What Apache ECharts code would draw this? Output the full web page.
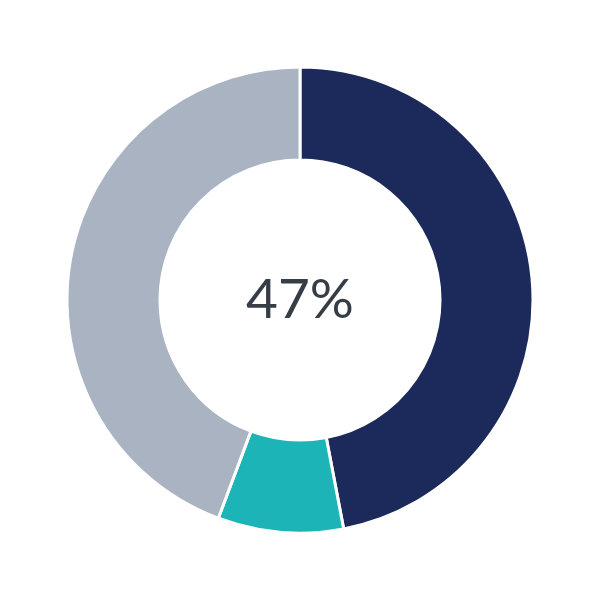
<!DOCTYPE html>
<html><head><meta charset="utf-8">
<script src="https://cdn.jsdelivr.net/npm/echarts@6/dist/echarts.min.js"></script>
<style>html,body{margin:0;padding:0;background:#fff}#c{width:600px;height:600px}</style>
</head><body><div id="c"></div>
<script>
const categories = ['A', 'B', 'C'];
const values = [47, 8.7, 44.3];
const colors = ['#1b2a5b', '#1db4b7', '#a9b3c2'];
const centerLabel = '47%';

const chart = echarts.init(document.getElementById('c'));
chart.setOption({
  animation: false,
  title: {
    text: centerLabel, left: 'center', top: 'middle',
    textStyle: { fontFamily: 'Lato', fontWeight: 400, fontSize: 55, color: '#363d46' }
  },
  series: [{
    type: 'pie',
    center: ['50%', '50%'],
    radius: [140, 233],
    startAngle: 90,
    clockwise: true,
    label: { show: false },
    labelLine: { show: false },
    itemStyle: { borderColor: '#fff', borderWidth: 3 },
    data: categories.map((c, i) => ({ name: c, value: values[i], itemStyle: { color: colors[i] } }))
  }]
});
</script></body></html>
